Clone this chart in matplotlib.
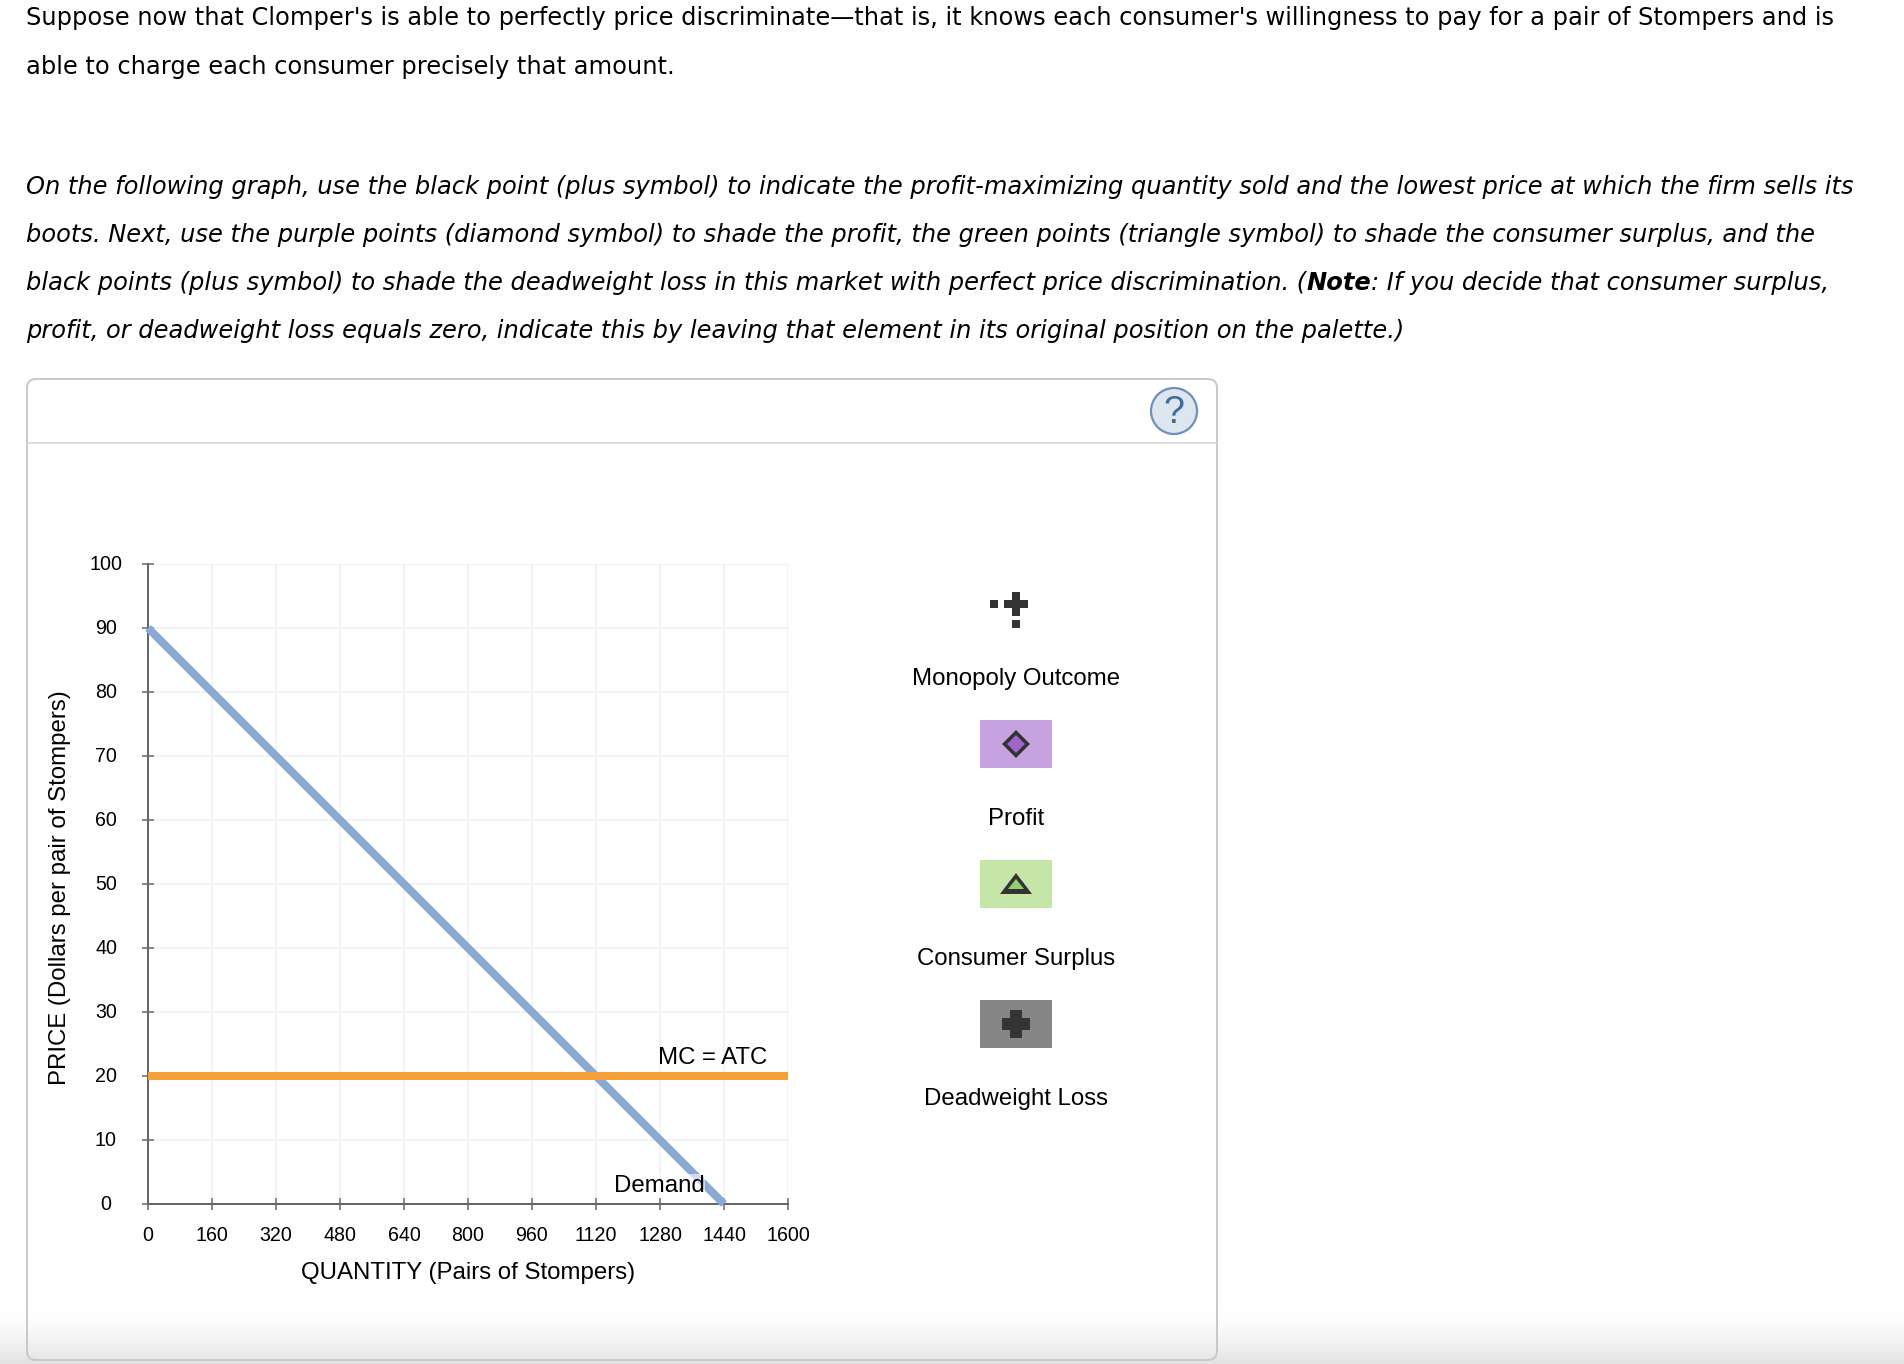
import matplotlib
matplotlib.use("Agg")
import matplotlib.pyplot as plt
import matplotlib.transforms as mtrans
import numpy as np
from matplotlib.patches import FancyBboxPatch, Rectangle, Polygon, Circle

W, H = 1904, 1364
PX = 72 / 100  # one pixel in points at dpi 100

# chart values
demand_q = [0, 1440]
demand_p = [90, 0]
mc_q = [0, 1600]
mc_p = [20, 20]
x_ticks = [0, 160, 320, 480, 640, 800, 960, 1120, 1280, 1440, 1600]
y_ticks = [0, 10, 20, 30, 40, 50, 60, 70, 80, 90, 100]
palette_labels = ["Monopoly Outcome", "Profit", "Consumer Surplus", "Deadweight Loss"]

para1 = ["Suppose now that Clomper's is able to perfectly price discriminate\u2014that is, it knows each consumer's willingness to pay for a pair of Stompers and is",
         "able to charge each consumer precisely that amount."]
para2 = ["On the following graph, use the black point (plus symbol) to indicate the profit-maximizing quantity sold and the lowest price at which the firm sells its",
         "boots. Next, use the purple points (diamond symbol) to shade the profit, the green points (triangle symbol) to shade the consumer surplus, and the"]
line_note = ["black points (plus symbol) to shade the deadweight loss in this market with perfect price discrimination. (", "Note", ": If you decide that consumer surplus,"]
line_last = "profit, or deadweight loss equals zero, indicate this by leaving that element in its original position on the palette.)"

BODY_SIZE = 17.4
SANS = "Liberation Sans"
fig = plt.figure(figsize=(W / 100, H / 100), dpi=100, facecolor="white")

# page layer in pixel coordinates
bg = fig.add_axes([0, 0, 1, 1], zorder=0)
bg.set_xlim(0, W)
bg.set_ylim(H, 0)
bg.axis("off")

# grey fade along the bottom of the page
fade = np.linspace(0, 1, 64).reshape(-1, 1) ** 2
bg.imshow(fade, extent=[0, W, H, 1300], cmap=matplotlib.colors.LinearSegmentedColormap.from_list("f", ["#ffffff", "#e2e2e2"]),
          aspect="auto", zorder=0)
bg.set_xlim(0, W)
bg.set_ylim(H, 0)

bg.add_patch(FancyBboxPatch((27, 379), 1190, 981, boxstyle="round,pad=0,rounding_size=9",
                            fc="none", ec="#c9c9c9", lw=2 * PX, zorder=1))
bg.plot([28, 1216], [443, 443], color="#dddddd", lw=2 * PX, zorder=1)

# help icon
bg.add_patch(Circle((1174, 411), 23, fc="#dde6ef", ec="#6d90b8", lw=2.2 * PX, zorder=2))
bg.text(1174, 413, "?", family=SANS, fontsize=27, color="#3f6c9f", ha="center", va="center", zorder=3)


def body(x, y, s, **kw):
    return bg.text(x, y, s, family="DejaVu Sans", fontsize=BODY_SIZE, color="black", va="center", ha="left", **kw)


body(26, 18, para1[0])
body(26, 67, para1[1])
body(26, 187, para2[0], style="italic")
body(26, 235, para2[1], style="italic")
body(26, 331, line_last, style="italic")

# the note line has a bold word in it, so it goes together piece by piece
fig.canvas.draw()
rend = fig.canvas.get_renderer()
cur_x = 26
for piece in line_note:
    t = body(cur_x, 283, piece, style="italic", weight="bold" if piece == "Note" else "normal")
    # trailing spaces and such
    t2 = body(cur_x, 283, piece + ".", style="italic", weight=t.get_weight(), alpha=0)
    t3 = body(cur_x, 283, ".", style="italic", weight=t.get_weight(), alpha=0)
    cur_x += t2.get_window_extent(rend).width - t3.get_window_extent(rend).width
    t2.remove()
    t3.remove()

# palette on the right
CX = 1016
for (x0, x1, y0, y1) in [(1004, 1028, 600, 608), (1012, 1020, 592, 616), (990, 998, 600, 608), (1012, 1020, 620, 628)]:
    bg.add_patch(Rectangle((x0, y0), x1 - x0, y1 - y0, fc="#333333", ec="none", zorder=3))

bg.add_patch(Rectangle((CX - 36, 720), 72, 48, fc="#c6a2e0", ec="none", zorder=2))
bg.add_patch(Polygon([(CX, 730), (CX + 14, 744), (CX, 758), (CX - 14, 744)], fc="#333333", ec="none", zorder=3))
bg.add_patch(Polygon([(CX, 735), (CX + 9, 744), (CX, 753), (CX - 9, 744)], fc="#a066cc", ec="none", zorder=4))

bg.add_patch(Rectangle((CX - 36, 860), 72, 48, fc="#c6e6a8", ec="none", zorder=2))
bg.add_patch(Polygon([(CX, 873), (CX + 16, 894), (CX - 16, 894)], fc="#333333", ec="none", zorder=3))
bg.add_patch(Polygon([(CX, 879), (CX + 8, 889), (CX - 8, 889)], fc="#8fd070", ec="none", zorder=4))

bg.add_patch(Rectangle((CX - 36, 1000), 72, 48, fc="#858585", ec="none", zorder=2))
bg.add_patch(Rectangle((1002, 1018), 28, 12, fc="#333333", ec="none", zorder=3))
bg.add_patch(Rectangle((1010, 1010), 12, 28, fc="#333333", ec="none", zorder=3))

for lab, y in zip(palette_labels, [679, 819, 959, 1099]):
    bg.text(CX, y, lab, family=SANS, fontsize=17.3, color="black", ha="center", va="center")

# the chart itself
ax = fig.add_axes([148 / W, 1 - 1204 / H, 640 / W, 640 / H], zorder=1)
ax.patch.set_alpha(0)
ax.set_xlim(0, 1600)
ax.set_ylim(0, 100)
ax.grid(True, color="#efefef", lw=1.5 * PX)
ax.set_axisbelow(True)
for s in ["top", "right"]:
    ax.spines[s].set_visible(False)
for s in ["left", "bottom"]:
    ax.spines[s].set_color("#666666")
    ax.spines[s].set_linewidth(2 * PX)

ax.set_xticks(x_ticks)
ax.set_yticks(y_ticks)
ax.tick_params(axis="both", direction="inout", length=12 * PX, width=1.5 * PX, color="#666666", labelsize=14.1)
ax.tick_params(axis="x", pad=16 * PX)
ax.tick_params(axis="y", pad=36 * PX)
for lab in ax.get_xticklabels() + ax.get_yticklabels():
    lab.set_family(SANS)
up_1px = mtrans.ScaledTranslation(0, 1.2 / 100, fig.dpi_scale_trans)
for lab in ax.get_yticklabels():
    lab.set_ha("center")
    lab.set_transform(lab.get_transform() + up_1px)

ax.plot(demand_q, demand_p, color="#8aaad2", lw=8 * PX, solid_capstyle="butt", clip_on=False, zorder=3)
ax.plot(mc_q, mc_p, color="#f5a03a", lw=8 * PX, solid_capstyle="butt", clip_on=False, zorder=4)

ax.text(1412, 22.8, "MC = ATC", family=SANS, fontsize=17.3, ha="center", va="center", zorder=5)
ax.text(1278, 2.8, "Demand", family=SANS, fontsize=17.3, ha="center", va="center", zorder=5,
        bbox=dict(fc="white", ec="none", alpha=0.6, pad=0.5))

bg.text(468, 1273, "QUANTITY (Pairs of Stompers)", family=SANS, fontsize=17.3, ha="center", va="center")
bg.text(60, 888, "PRICE (Dollars per pair of Stompers)", family=SANS, fontsize=17.3, ha="center", va="center", rotation=90)

fig.savefig("out.png", dpi=100)
